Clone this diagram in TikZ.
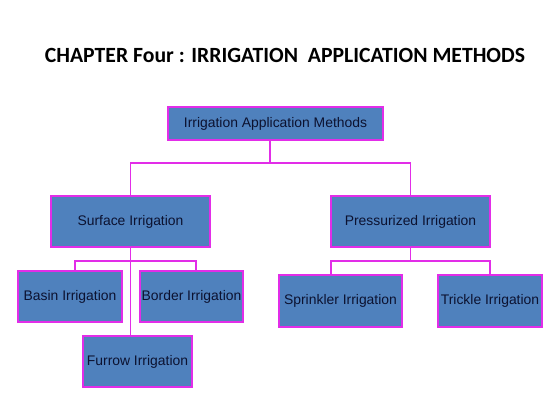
\documentclass[tikz,border=0pt]{standalone}
\usepackage{fontspec}
\setmainfont{Liberation Sans}
\newfontfamily\titlefont{Carlito}
\definecolor{boxfill}{HTML}{4F81BD}
\definecolor{boxline}{HTML}{E22DE8}
\definecolor{boxtext}{HTML}{0C1230}
\begin{document}
\begin{tikzpicture}[x=1pt,y=-1pt,
  box/.style={draw=boxline,line width=1.5pt,fill=boxfill,text=boxtext,inner sep=0pt,font=\fontsize{13.9}{16}\selectfont},
  conn/.style={draw=boxline,line width=1.3pt}]
\useasboundingbox[fill=white] (0,0) rectangle (560,420);
\node[font=\titlefont\bfseries\fontsize{21.7}{26}\selectfont,text=black] (title) at (285,55) {CHAPTER Four : IRRIGATION\ \ APPLICATION METHODS};
\node[box,minimum width=215pt,minimum height=33pt] (root) at (275.5,123.5) {Irrigation Application Methods};
\node[box,minimum width=159pt,minimum height=51pt] (surf) at (130.5,221.5) {Surface Irrigation};
\node[box,minimum width=159pt,minimum height=51pt] (pres) at (410.5,221.5) {Pressurized Irrigation};
\node[box,minimum width=104pt,minimum height=51pt] (basin) at (70,296.5) {Basin Irrigation};
\node[box,minimum width=103pt,minimum height=51pt] (border) at (191.5,296.5) {Border Irrigation};
\node[box,minimum width=109pt,minimum height=51pt] (furrow) at (137.5,361.5) {Furrow Irrigation};
\node[box,minimum width=123pt,minimum height=52pt] (sprink) at (340.5,301) {Sprinkler Irrigation};
\node[box,minimum width=104pt,minimum height=52pt] (trick) at (490,301) {Trickle Irrigation};
\coordinate (j1) at (270,163);
\coordinate (j2) at (130.5,261);
\coordinate (j3) at (410.5,261);
\draw[conn] (root.south -| j1) -- (j1);
\draw[conn] (j1) -| (surf.north);
\draw[conn] (j1) -| (pres.north);
\draw[conn] (surf.south) -- (furrow.north -| surf.south);
\draw[conn] (j2) -| (75,271);
\draw[conn] (j2) -| (196,271);
\draw[conn] (pres.south) -- (j3);
\draw[conn] (j3) -| (331,275);
\draw[conn] (j3) -| (490,275);
\end{tikzpicture}
\end{document}
